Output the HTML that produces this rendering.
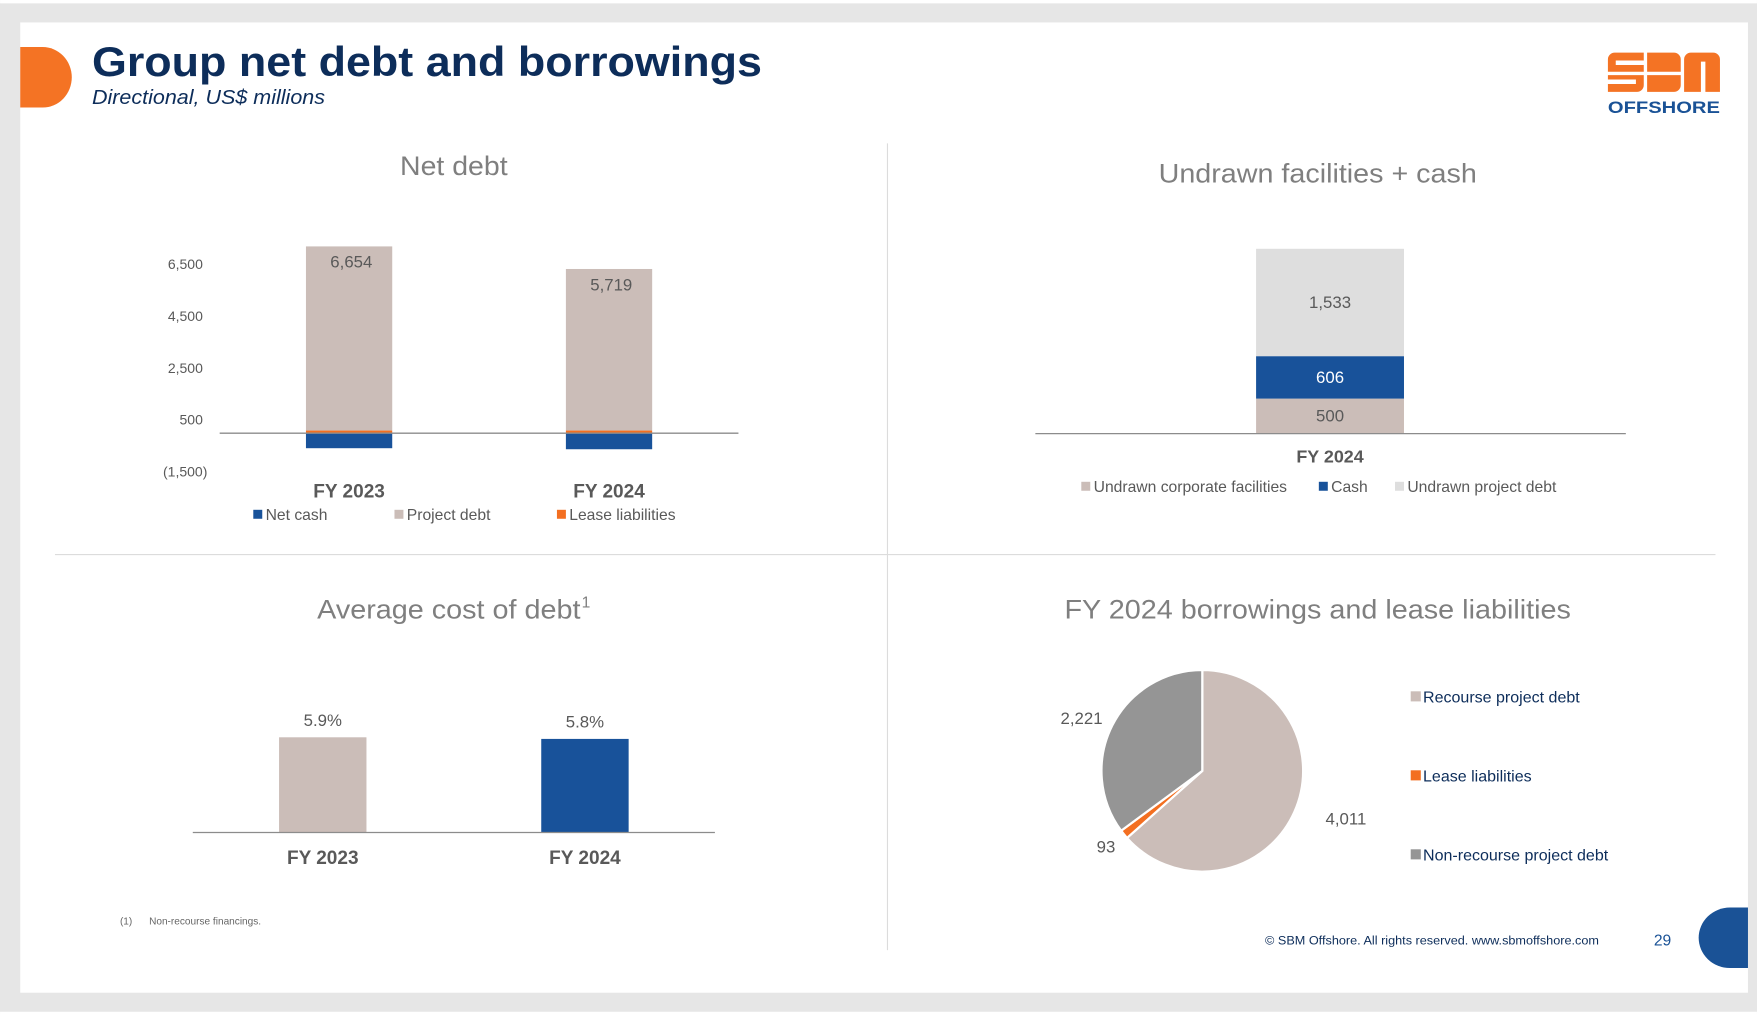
<!DOCTYPE html>
<html><head><meta charset="utf-8"><style>
html,body{margin:0;padding:0;background:#e6e6e6;}
svg{display:block;font-family:"Liberation Sans",Arial,sans-serif;}
</style></head><body>
<svg id="s" width="1757" height="1014" viewBox="0 0 1568 905" xmlns="http://www.w3.org/2000/svg">
<rect x="0" y="0" width="1568" height="905" fill="#e6e6e6"/>
<rect x="0" y="-5" width="1568" height="8" fill="#fff"/>
<rect x="0" y="903" width="1568" height="4" fill="#fff"/>
<rect x="18" y="20" width="1542" height="866" fill="#fff"/>
<path d="M18 42 H38 A26 27 0 0 1 38 96 H18 Z" fill="#f47324"/>
<text x="82" y="68" font-size="37" font-weight="bold" fill="#0d2d5a" textLength="598" lengthAdjust="spacingAndGlyphs">Group net debt and borrowings</text>
<text x="82" y="93" font-size="18.5" font-style="italic" fill="#0d2d5a" textLength="208" lengthAdjust="spacingAndGlyphs">Directional, US$ millions</text>
<g>
<path d="M1441 47 H1467 V54 H1442 V58 H1467 V64 H1435 V53 A6 6 0 0 1 1441 47 Z" fill="#f47324"/>
<path d="M1435 67 H1467 V76 A6 6 0 0 1 1461 82 H1435 V75 H1460 V71 H1435 Z" fill="#f47324"/>
<path d="M1470 47 H1494 A6 6 0 0 1 1500 53 V64 H1470 Z M1470 67 H1500 V76 A6 6 0 0 1 1494 82 H1470 Z" fill="#f47324"/>
<path d="M1503 82 V53 A6 6 0 0 1 1509 47 H1529 A6 6 0 0 1 1535 53 V82 H1522 V55 H1518 V82 Z" fill="#f47324"/>
<text x="1435" y="101" font-size="15" font-weight="bold" fill="#1a5296" textLength="100" lengthAdjust="spacingAndGlyphs">OFFSHORE</text>
</g>
<line x1="792" y1="128" x2="792" y2="848" stroke="#dcdcdc" stroke-width="1"/>
<line x1="49" y1="495" x2="1531" y2="495" stroke="#dcdcdc" stroke-width="1"/>
<g id="c1"></g>
<g id="c2"></g>
<g id="c3"></g>
<g id="c4"></g>
<text x="107" y="825" font-size="9" fill="#666">(1)&#160;&#160;&#160;&#160;&#160;&#160;Non-recourse financings.</text>
<text x="1129" y="843" font-size="11" fill="#0d2d5a" textLength="298" lengthAdjust="spacingAndGlyphs">© SBM Offshore. All rights reserved. www.sbmoffshore.com</text>
<text x="1476" y="844" font-size="14" fill="#1a5296">29</text>
<path d="M1560 810 H1544 A28 27 0 0 0 1544 864 H1560 Z" fill="#1a5296"/>
</svg>
<script>
const NS="http://www.w3.org/2000/svg";
// Net debt
const ndCats=["FY 2023","FY 2024"];
const ndProject=[7100,6230];
const ndLease=[100,100];
const ndCash=[-580,-620];
const ndLabels=["6,654","5,719"];
const ndTicks=[6500,4500,2500,500,-1500];
const ndTickLabels=["6,500","4,500","2,500","500","(1,500)"];
// Undrawn
const udCats=["FY 2024"];
const udCorporate=[500];
const udCash=[606];
const udProject=[1533];
// Average cost
const acCats=["FY 2023","FY 2024"];
const acValues=[5.9,5.8];
// Pie
const pieNames=["Recourse project debt","Lease liabilities","Non-recourse project debt"];
const pieValues=[4011,93,2221];

const C={blue:"#18529a",beige:"#cbbdb8",orange:"#f36f21",gray:"#959595",light:"#dedede",txt:"#7f7f7f",dark:"#595959"};
function mk(p,tag,a,txt){const e=document.createElementNS(NS,tag);for(const k in a)e.setAttribute(k,a[k]);if(txt!==undefined)e.textContent=txt;p.appendChild(e);return e;}

// Chart 1
(function(){
const g=document.getElementById('c1');
const y=v=>386.6-v*0.02315;
const bx=[273,505],bw=77;
let t=mk(g,'text',{x:357,y:156,'font-size':24,fill:C.txt,textLength:96,lengthAdjust:'spacingAndGlyphs'},'Net debt');

ndTicks.forEach((v,i)=>{const e=mk(g,'text',{x:i==4?185:181,y:y(v)+4,'font-size':12.5,fill:C.dark,'text-anchor':'end'},ndTickLabels[i]);
});
ndCats.forEach((c,i)=>{
 let r=mk(g,'rect',{x:bx[i],y:y(ndLease[i]+ndProject[i]),width:bw,height:y(ndLease[i])-y(ndLease[i]+ndProject[i]),fill:C.beige});
 
 r=mk(g,'rect',{x:bx[i],y:y(ndLease[i]),width:bw,height:y(0)-y(ndLease[i]),fill:C.orange});
 
 r=mk(g,'rect',{x:bx[i],y:y(0),width:bw,height:y(ndCash[i])-y(0),fill:C.blue});
 
 let l=mk(g,'text',{x:bx[i]+bw/2+2,y:y(ndLease[i]+ndProject[i])+19,'font-size':15,fill:C.dark,'text-anchor':'middle'},ndLabels[i]);
 
 l=mk(g,'text',{x:bx[i]+bw/2,y:444,'font-size':17,'font-weight':'bold',fill:C.dark,'text-anchor':'middle'},c);
 
});
let ln=mk(g,'line',{x1:196,x2:659,y1:y(0),y2:y(0),stroke:'#8c8c8c','stroke-width':1.2});

[["Net cash",226,C.blue],["Project debt",352,C.beige],["Lease liabilities",497,C.orange]].forEach(d=>{
 const lg=mk(g,'g',{});
 mk(lg,'rect',{x:d[1],y:455,width:8,height:8,fill:d[2]});
 mk(lg,'text',{x:d[1]+11,y:464,'font-size':14,fill:C.dark},d[0]);
});
})();

// Chart 2
(function(){
const g=document.getElementById('c2');
const y=v=>387-v*0.0625;
const x0=1121,bw=132;
let t=mk(g,'text',{x:1034,y:163,'font-size':24,fill:C.txt,textLength:284,lengthAdjust:'spacingAndGlyphs'},'Undrawn facilities + cash');

udCats.forEach((c,i)=>{
 const segs=[[udCorporate[i],C.beige,C.dark,'bar-undrawn-corporate'],[udCash[i],C.blue,'#fff','bar-cash'],[udProject[i],C.light,C.dark,'bar-undrawn-project']];
 let base=0;
 segs.forEach(s=>{
  const r=mk(g,'rect',{x:x0,y:y(base+s[0]),width:bw,height:y(base)-y(base+s[0]),fill:s[1]});
  
  const l=mk(g,'text',{x:x0+bw/2,y:(y(base)+y(base+s[0]))/2+5,'font-size':15,fill:s[2],'text-anchor':'middle'},s[0].toLocaleString('en-US'));
  
  base+=s[0];
 });
 const l=mk(g,'text',{x:x0+bw/2,y:413,'font-size':16,'font-weight':'bold',fill:C.dark,'text-anchor':'middle'},c);
 
});
let ln=mk(g,'line',{x1:924,x2:1451,y1:387,y2:387,stroke:'#8c8c8c','stroke-width':1.2});

[["Undrawn corporate facilities",965,C.beige],["Cash",1177,C.blue],["Undrawn project debt",1245,C.light]].forEach(d=>{
 const lg=mk(g,'g',{});
 mk(lg,'rect',{x:d[1],y:430,width:8,height:8,fill:d[2]});
 mk(lg,'text',{x:d[1]+11,y:439,'font-size':14,fill:C.dark},d[0]);
});
})();

// Chart 3
(function(){
const g=document.getElementById('c3');
const y=v=>743-v*14.4;
const bx=[249,483],bw=78,cols=[C.beige,C.blue];
let t=mk(g,'text',{x:283,y:552,'font-size':24,fill:C.txt,textLength:235,lengthAdjust:'spacingAndGlyphs'},'Average cost of debt');

t=mk(g,'text',{x:519,y:542,'font-size':14,fill:C.txt},'1');

acCats.forEach((c,i)=>{
 const r=mk(g,'rect',{x:bx[i],y:y(acValues[i]),width:bw,height:743-y(acValues[i]),fill:cols[i]});
 
 let l=mk(g,'text',{x:bx[i]+bw/2,y:y(acValues[i])-10,'font-size':15,fill:C.dark,'text-anchor':'middle'},acValues[i].toFixed(1)+'%');
 
 l=mk(g,'text',{x:bx[i]+bw/2,y:771,'font-size':17,'font-weight':'bold',fill:C.dark,'text-anchor':'middle'},c);
 
});
let ln=mk(g,'line',{x1:172,x2:638,y1:743,y2:743,stroke:'#8c8c8c','stroke-width':1.2});

})();

// Chart 4
(function(){
const g=document.getElementById('c4');
const cx=1073,cy=688,r=90,cols=[C.beige,C.orange,C.gray];
let t=mk(g,'text',{x:950,y:552,'font-size':24,fill:C.txt,textLength:452,lengthAdjust:'spacingAndGlyphs'},'FY 2024 borrowings and lease liabilities');

const tot=pieValues.reduce((a,b)=>a+b,0);
let a0=0;
const lblOff=[[1183,736,'start'],[987,761,'middle'],[984,646,'end']];
pieValues.forEach((v,i)=>{
 const a1=a0+v/tot*Math.PI*2;
 const p=(a)=>[cx+r*Math.sin(a),cy-r*Math.cos(a)];
 const s=p(a0),e=p(a1);
 const path=mk(g,'path',{d:`M${cx} ${cy} L${s[0]} ${s[1]} A${r} ${r} 0 ${a1-a0>Math.PI?1:0} 1 ${e[0]} ${e[1]} Z`,fill:cols[i],stroke:'#fff','stroke-width':2});
 
 const l=mk(g,'text',{x:lblOff[i][0],y:lblOff[i][1],'font-size':15,fill:C.dark,'text-anchor':lblOff[i][2]},v.toLocaleString('en-US'));
 
 a0=a1;
});
pieNames.forEach((n,i)=>{
 const lg=mk(g,'g',{});
 const yy=622+i*70.5;
 mk(lg,'rect',{x:1259,y:yy-5,width:9,height:9,fill:cols[i]});
 mk(lg,'text',{x:1270,y:yy+5,'font-size':14.3,fill:'#0d2d5a'},n);
});
})();
</script>
</body></html>
